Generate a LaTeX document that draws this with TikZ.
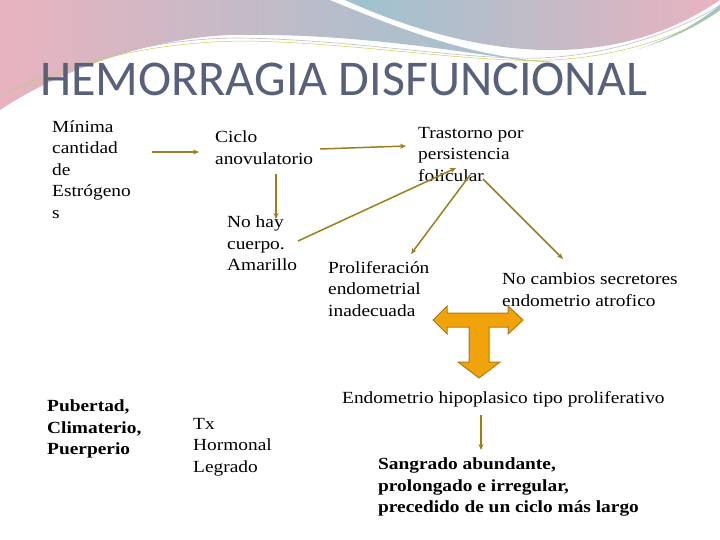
\documentclass[tikz,border=0pt]{standalone}
\usepackage{fontspec}
\setmainfont{Liberation Serif}[FakeStretch=1.14]
\newfontfamily\titlefont{Carlito}
\usetikzlibrary{arrows.meta}
\definecolor{arr}{HTML}{9C7E1E}
\definecolor{gold}{HTML}{F0A30A}
\definecolor{goldd}{HTML}{B07A10}
\definecolor{ttl}{HTML}{58607A}
\definecolor{bl}{HTML}{9CC3D0}
\definecolor{pk}{HTML}{E8B3BF}
\begin{document}
\begin{tikzpicture}[x=1pt,y=-1pt,
  txt/.style={font=\fontsize{17}{21.5}\selectfont, align=left, anchor=north west, inner sep=0},
  btxt/.style={txt, font=\fontsize{17}{21.5}\selectfont\bfseries},
  con/.style={draw=arr, line width=1.5pt, -{Stealth[length=6pt,width=5pt]}}]
\useasboundingbox (0,0) rectangle (720,540);
\fill[white] (0,0) rectangle (720,540);
% decorative header
\shade[left color=pk, right color=bl, middle color=bl!70!pk]
  (0,0) -- (0,110) .. controls (60,70) and (150,38) .. (230,35) .. controls (330,33) and (420,45) .. (520,60) .. controls (600,70) and (680,40) .. (720,10) -- (720,0) -- cycle;
\fill[white] (330,0) .. controls (380,20) and (470,60) .. (560,62) .. controls (630,62) and (690,30) .. (720,5) -- (720,0) -- cycle;
\shade[left color=bl, right color=pk]
  (345,0) .. controls (400,25) and (480,52) .. (560,50) .. controls (640,48) and (690,20) .. (720,0) -- cycle;
\draw[gray!50, line width=0.6pt] (0,95) .. controls (80,58) and (160,38) .. (240,38) .. controls (360,40) and (460,60) .. (540,58) .. controls (620,55) and (690,25) .. (720,5);
\draw[yellow!60!gray, line width=0.5pt] (10,92) .. controls (90,55) and (170,41) .. (250,41) .. controls (370,44) and (470,63) .. (550,60) .. controls (630,57) and (695,28) .. (720,10);
% title
\node[anchor=west, inner sep=0, text=ttl, font=\titlefont\fontsize{50}{50}\selectfont] (title) at (40,79) {HEMORRAGIA DISFUNCIONAL};
% texts
\node[txt] (min) at (52,120) {Mínima\\cantidad\\de\\Estrógeno\\s};
\node[txt] (ciclo) at (215,131) {Ciclo\\anovulatorio};
\node[txt] (tras) at (418,127) {Trastorno por\\persistencia\\folicular};
\node[txt] (nohay) at (227,216) {No hay\\cuerpo.\\Amarillo};
\node[txt] (prol) at (328,261) {Proliferación\\endometrial\\inadecuada};
\node[txt] (noc) at (502,273) {No cambios secretores\\endometrio atrofico};
\node[txt] (endo) at (342,391) {Endometrio hipoplasico tipo proliferativo};
\node[btxt] (pub) at (47,400) {Pubertad,\\Climaterio,\\Puerperio};
\node[txt] (tx) at (193,418) {Tx\\Hormonal\\Legrado};
\node[btxt] (sang) at (378,458) {Sangrado abundante,\\prolongado e irregular,\\precedido de un ciclo más largo};
% connectors
\coordinate (m1) at (152,152); \coordinate (c0) at (199,152);
\draw[con] (m1) -- (c0);
\coordinate (c1) at (320,149); \coordinate (t1) at (406,146);
\draw[con] (c1) -- (t1);
\coordinate (c2) at (276,174); \coordinate (n1) at (276,219);
\draw[con] (c2) -- (n1);
\coordinate (n2) at (298,241); \coordinate (t2) at (456,168);
\draw[con] (n2) -- (t2);
\coordinate (t3) at (470,175); \coordinate (p1) at (411,254);
\draw[con] (t3) -- (p1);
\coordinate (t4) at (483,179); \coordinate (nc1) at (563,259);
\draw[con] (t4) -- (nc1);
\coordinate (e1) at (481,415); \coordinate (s1) at (481,450);
\draw[con] (e1) -- (s1);
% T block arrow
\filldraw[fill=gold, draw=goldd, line width=1pt]
  (433,320) -- (447,306) -- (447,313) -- (508,313) -- (508,306) -- (523,320)
  -- (508,334) -- (508,327) -- (489,327) -- (489,362) -- (500,362) -- (479,378)
  -- (458,362) -- (469,362) -- (469,327) -- (447,327) -- (447,334) -- cycle;
\end{tikzpicture}
\end{document}
